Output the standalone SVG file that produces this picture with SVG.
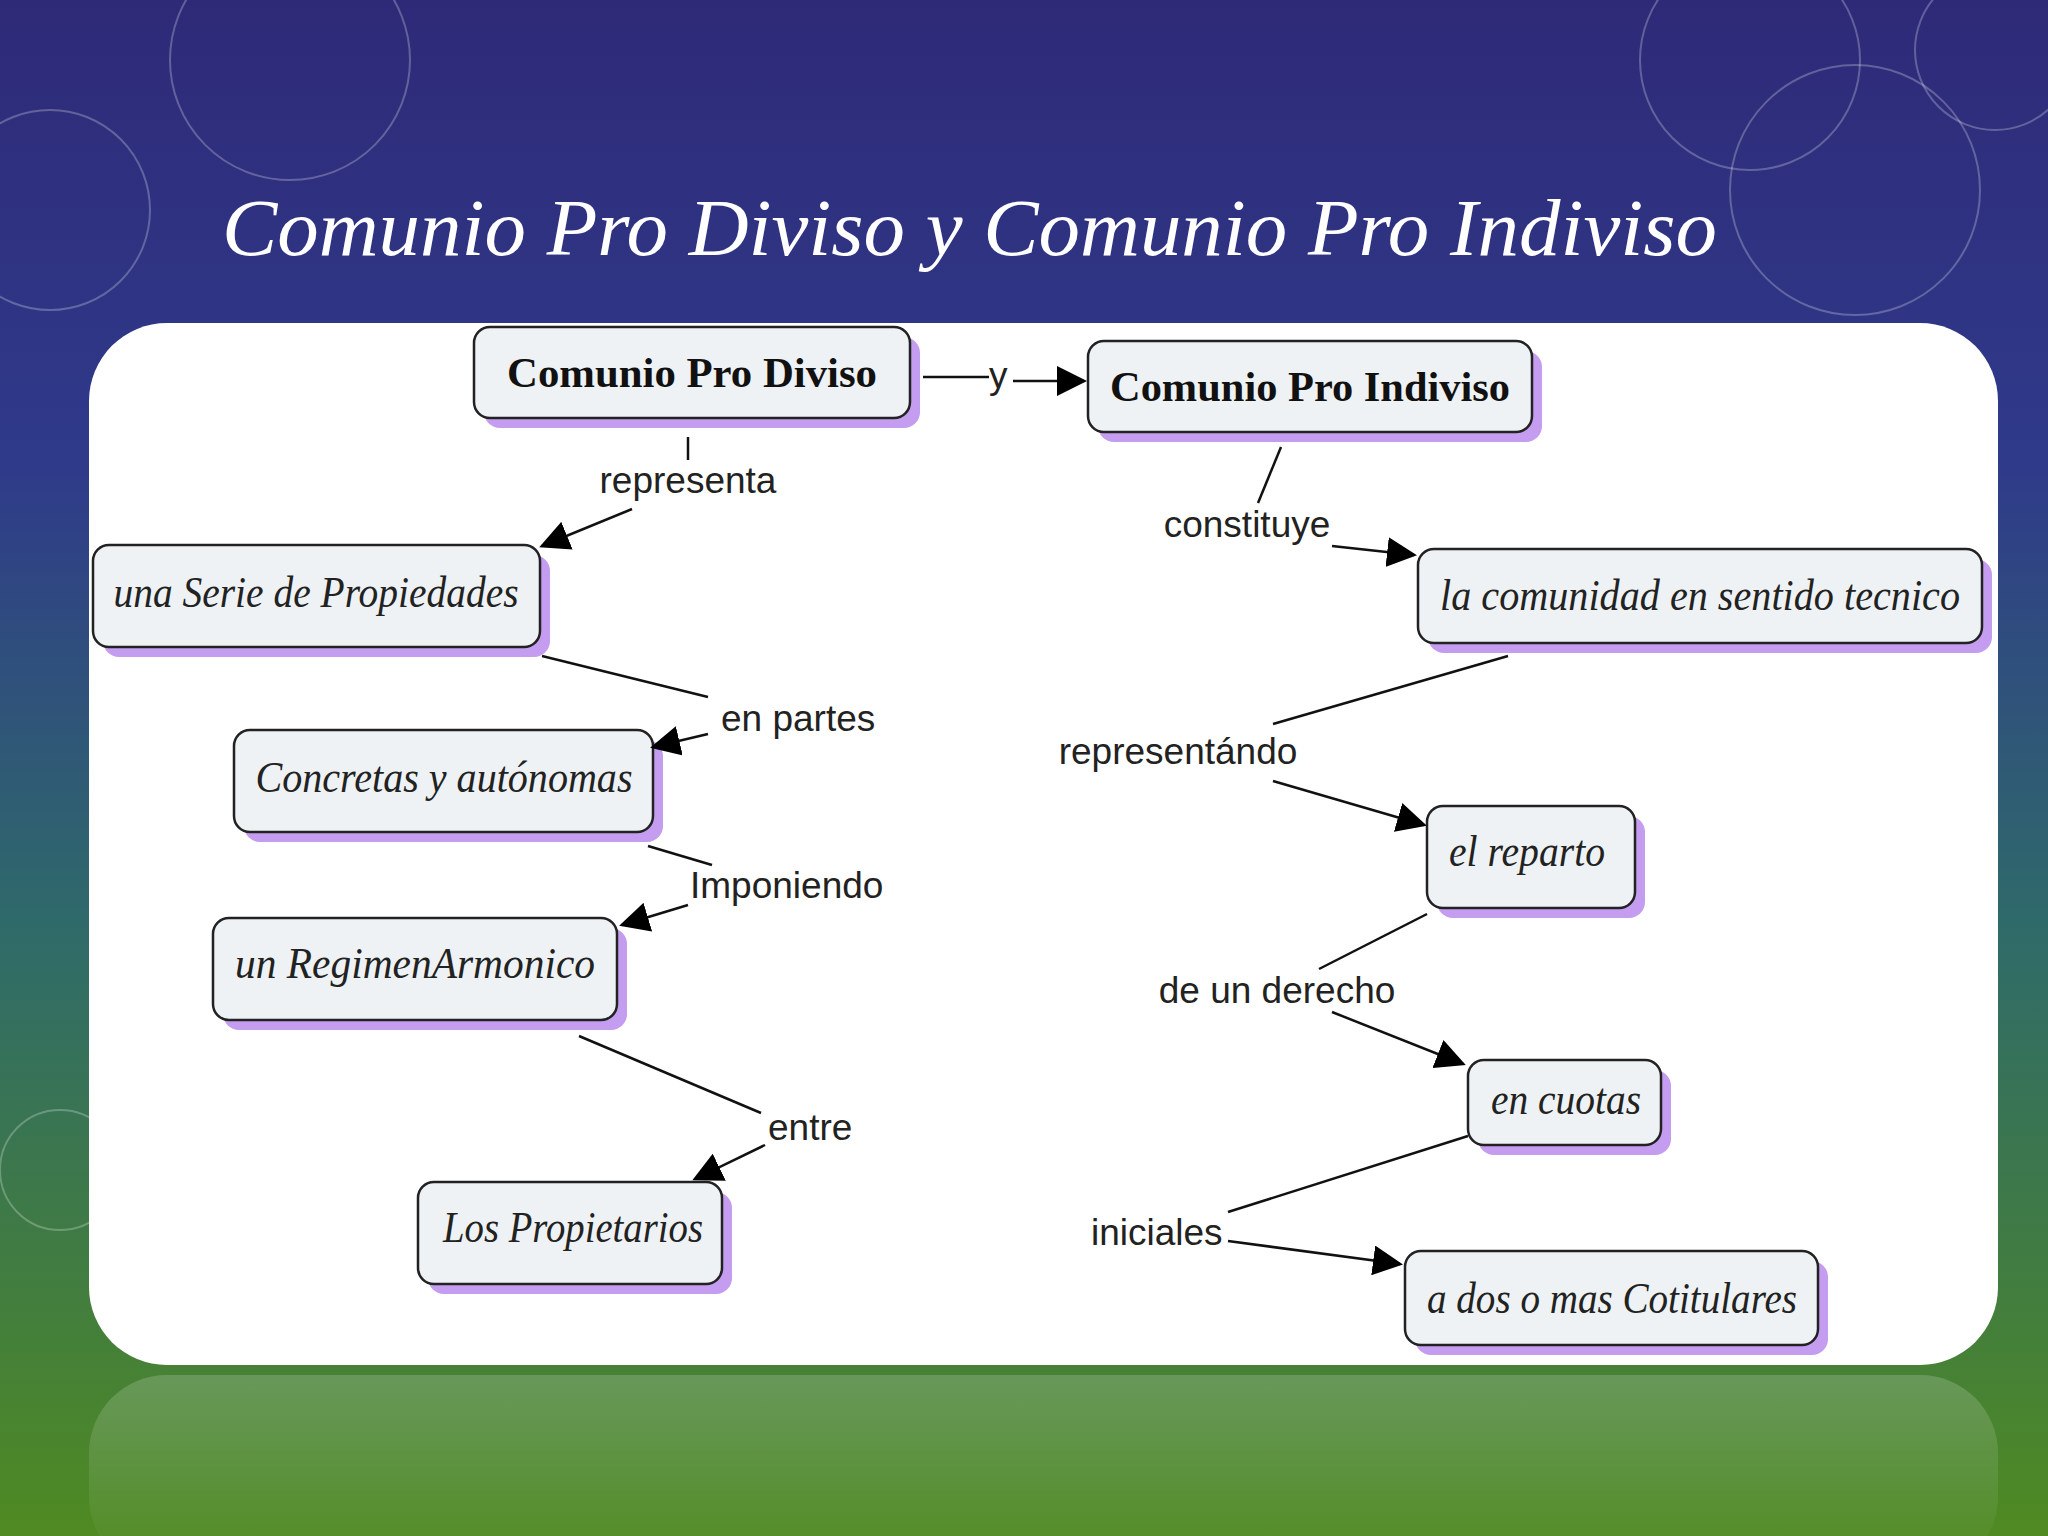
<svg xmlns="http://www.w3.org/2000/svg" width="2048" height="1536" viewBox="0 0 2048 1536">
<defs>
<linearGradient id="bg" x1="0" y1="0" x2="0" y2="1">
<stop offset="0" stop-color="#2e2a78"/><stop offset="0.3" stop-color="#2f3a8a"/><stop offset="0.6" stop-color="#2f6a6a"/><stop offset="1" stop-color="#4f8a22"/>
</linearGradient>
<linearGradient id="refl" x1="0" y1="0" x2="0" y2="1">
<stop offset="0" stop-color="#ffffff" stop-opacity="0.18"/><stop offset="1" stop-color="#ffffff" stop-opacity="0"/>
</linearGradient>
<marker id="ah" viewBox="0 0 10 10" refX="9" refY="5" markerWidth="30" markerHeight="30" markerUnits="userSpaceOnUse" orient="auto">
<path d="M0,0 L10,5 L0,10 z" fill="#000"/>
</marker>
<style>
.box{fill:#eef2f4;stroke:#222;stroke-width:2.5}
.sh{fill:#c49cf0}
.nt{font-family:"Liberation Serif",serif;font-style:italic;font-size:44px;fill:#222;text-anchor:middle}
.bt{font-family:"Liberation Serif",serif;font-weight:bold;font-size:42px;fill:#111;text-anchor:middle}
.lb{font-family:"Liberation Sans",Arial,sans-serif;font-size:37px;fill:#222}
.cn line{stroke:#111;stroke-width:2.5}
.bk{fill:none;stroke:#ffffff;stroke-opacity:0.25;stroke-width:2}
</style>
</defs>
<rect width="2048" height="1536" fill="url(#bg)"/>
<circle class="bk" cx="50" cy="210" r="100"/>
<circle class="bk" cx="1855" cy="190" r="125"/>
<circle class="bk" cx="1750" cy="60" r="110"/>
<circle class="bk" cx="1995" cy="50" r="80"/>
<circle class="bk" cx="290" cy="60" r="120"/>
<circle class="bk" cx="60" cy="1170" r="60"/>
<rect x="89" y="1375" width="1909" height="200" rx="78" fill="url(#refl)"/>
<text x="222" y="255" font-family="Liberation Serif,serif" font-style="italic" font-size="80" fill="#fff" textLength="1495" lengthAdjust="spacingAndGlyphs">Comunio Pro Diviso y Comunio Pro Indiviso</text>
<rect x="89" y="323" width="1909" height="1042" rx="78" fill="#fff"/>

<g id="n1"><rect class="sh" x="484" y="337" width="436" height="91" rx="16"/><rect class="box" x="474" y="327" width="436" height="91" rx="16"/><text class="bt" x="692" y="387" textLength="370" lengthAdjust="spacingAndGlyphs">Comunio Pro Diviso</text></g>
<g id="n2"><rect class="sh" x="1098" y="351" width="444" height="91" rx="16"/><rect class="box" x="1088" y="341" width="444" height="91" rx="16"/><text class="bt" x="1310" y="401" textLength="400" lengthAdjust="spacingAndGlyphs">Comunio Pro Indiviso</text></g>
<g id="n3"><rect class="sh" x="103" y="555" width="447" height="102" rx="16"/><rect class="box" x="93" y="545" width="447" height="102" rx="16"/><text class="nt" x="316" y="607" textLength="405" lengthAdjust="spacingAndGlyphs">una Serie de Propiedades</text></g>
<g id="n4"><rect class="sh" x="1428" y="559" width="564" height="94" rx="16"/><rect class="box" x="1418" y="549" width="564" height="94" rx="16"/><text class="nt" x="1700" y="610" textLength="520" lengthAdjust="spacingAndGlyphs">la comunidad en sentido tecnico</text></g>
<g id="n5"><rect class="sh" x="244" y="740" width="419" height="102" rx="16"/><rect class="box" x="234" y="730" width="419" height="102" rx="16"/><text class="nt" x="444" y="792" textLength="377" lengthAdjust="spacingAndGlyphs">Concretas y autónomas</text></g>
<g id="n6"><rect class="sh" x="1437" y="816" width="208" height="102" rx="16"/><rect class="box" x="1427" y="806" width="208" height="102" rx="16"/><text class="nt" x="1527" y="866" textLength="156" lengthAdjust="spacingAndGlyphs">el reparto</text></g>
<g id="n7"><rect class="sh" x="223" y="928" width="404" height="102" rx="16"/><rect class="box" x="213" y="918" width="404" height="102" rx="16"/><text class="nt" x="415" y="978" textLength="360" lengthAdjust="spacingAndGlyphs">un RegimenArmonico</text></g>
<g id="n8"><rect class="sh" x="1478" y="1070" width="193" height="85" rx="16"/><rect class="box" x="1468" y="1060" width="193" height="85" rx="16"/><text class="nt" x="1566" y="1114" textLength="150" lengthAdjust="spacingAndGlyphs">en cuotas</text></g>
<g id="n9"><rect class="sh" x="428" y="1192" width="304" height="102" rx="16"/><rect class="box" x="418" y="1182" width="304" height="102" rx="16"/><text class="nt" x="573" y="1242" textLength="260" lengthAdjust="spacingAndGlyphs">Los Propietarios</text></g>
<g id="n10"><rect class="sh" x="1415" y="1261" width="413" height="94" rx="16"/><rect class="box" x="1405" y="1251" width="413" height="94" rx="16"/><text class="nt" x="1612" y="1313" textLength="370" lengthAdjust="spacingAndGlyphs">a dos o mas Cotitulares</text></g>

<g id="connectors" class="cn">
<line x1="923" y1="377" x2="989" y2="377"/><text class="lb" x="989" y="388">y</text><line x1="1013" y1="381" x2="1084" y2="381" marker-end="url(#ah)"/>
<line x1="688" y1="437" x2="688" y2="460"/><text class="lb" x="688" y="493" text-anchor="middle">representa</text><line x1="632" y1="509" x2="542" y2="546" marker-end="url(#ah)"/>
<line x1="1281" y1="447" x2="1258" y2="503"/><text class="lb" x="1247" y="537" text-anchor="middle">constituye</text><line x1="1332" y1="546" x2="1414" y2="555" marker-end="url(#ah)"/>
<line x1="542" y1="656" x2="708" y2="697"/><text class="lb" x="721" y="731">en partes</text><line x1="708" y1="734" x2="653" y2="747" marker-end="url(#ah)"/>
<line x1="648" y1="846" x2="712" y2="865"/><text class="lb" x="690" y="898">Imponiendo</text><line x1="688" y1="905" x2="622" y2="925" marker-end="url(#ah)"/>
<line x1="579" y1="1036" x2="761" y2="1113"/><text class="lb" x="768" y="1140">entre</text><line x1="765" y1="1145" x2="695" y2="1179" marker-end="url(#ah)"/>
<line x1="1508" y1="656" x2="1273" y2="724"/><text class="lb" x="1178" y="764" text-anchor="middle">representándo</text><line x1="1273" y1="781" x2="1424" y2="825" marker-end="url(#ah)"/>
<line x1="1427" y1="914" x2="1319" y2="969"/><text class="lb" x="1277" y="1003" text-anchor="middle">de un derecho</text><line x1="1332" y1="1012" x2="1463" y2="1064" marker-end="url(#ah)"/>
<line x1="1468" y1="1136" x2="1228" y2="1212"/><text class="lb" x="1091" y="1245">iniciales</text><line x1="1228" y1="1241" x2="1400" y2="1264" marker-end="url(#ah)"/>
</g>
</svg>
